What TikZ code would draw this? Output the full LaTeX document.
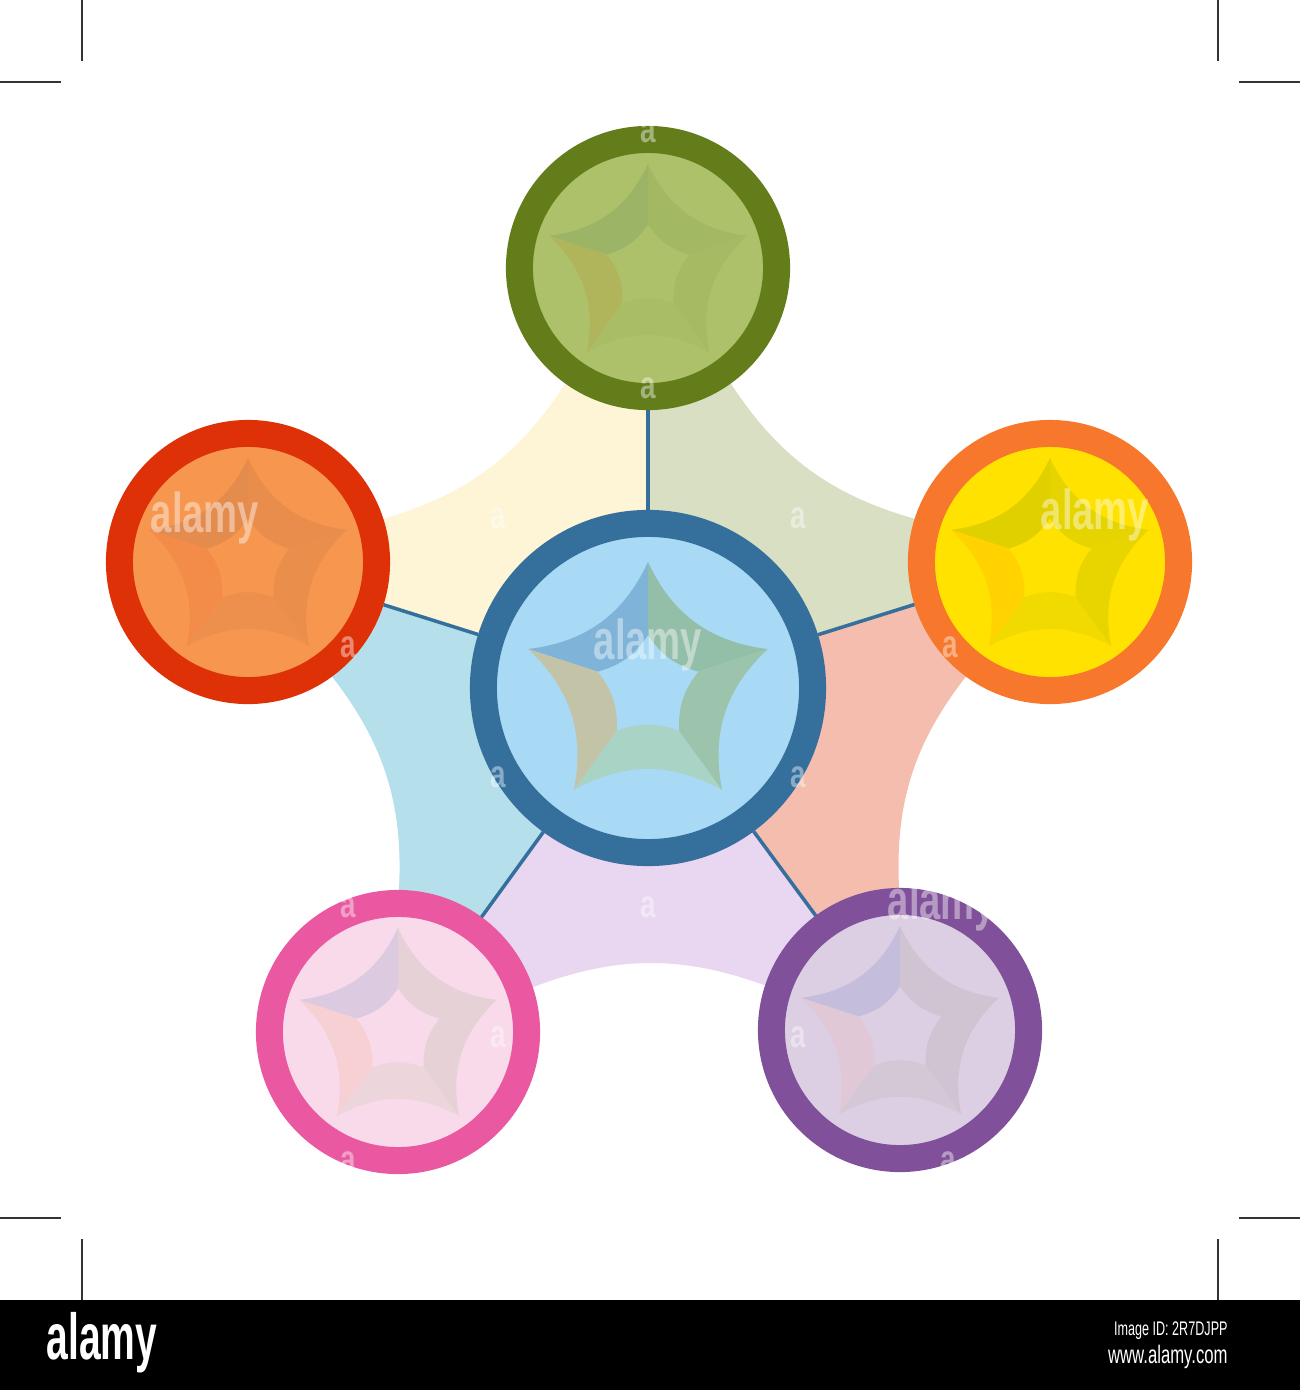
\documentclass[tikz,border=0pt]{standalone}
\usepackage{fontspec}
\setmainfont{Liberation Sans}
\usepackage{graphicx}
\usetikzlibrary{backgrounds}

\definecolor{ringB}{HTML}{356F9C}
\definecolor{fillB}{HTML}{A8DAF5}
\definecolor{ringG}{HTML}{637D1A}
\definecolor{fillG}{HTML}{ADC06A}
\definecolor{ringR}{HTML}{DE3108}
\definecolor{fillR}{HTML}{F7964F}
\definecolor{ringO}{HTML}{F7782C}
\definecolor{fillY}{HTML}{FFE200}
\definecolor{ringP}{HTML}{E958A0}
\definecolor{fillP}{HTML}{F8DAEA}
\definecolor{ringV}{HTML}{80519A}
\definecolor{fillV}{HTML}{DCCFE3}
\definecolor{zoneTL}{HTML}{FDF5D5}
\definecolor{zoneTR}{HTML}{D8DFC3}
\definecolor{zoneL}{HTML}{B5DFEB}
\definecolor{zoneR}{HTML}{F4BDAE}
\definecolor{zoneB}{HTML}{E9D7F1}

\newcommand{\narrow}[2]{\scalebox{#1}[1]{#2}}

% star of five bands: node, radius, colours of the bands TR, TL, L, B, R
\newcommand{\starsegs}[7]{%
  \begin{scope}[shift={(#1.center)}]
    \foreach \a/\c in {18/#3,90/#4,162/#5,234/#6,306/#7}{
      \edef\setseg{\noexpand\definecolor{seg}{HTML}{\c}}\setseg
      \fill[seg] (\a:#2) to[bend left=29] (\a+72:#2)
        -- (\a+72:0.42*#2) to[bend right=20] (\a:0.42*#2) -- cycle;
    }
  \end{scope}}

\begin{document}
\begin{tikzpicture}[x=0.01cm,y=0.01cm,
    hub/.style={circle,minimum size=3.29cm,inner sep=0pt,line width=0.27cm},
    petal/.style={circle,minimum size=2.57cm,inner sep=0pt,line width=0.27cm},
    spoke/.style={draw=ringB,line width=1pt},
    crop/.style={draw=black!80,line width=0.45pt},
    wm/.style={text=white,text opacity=0.42,font=\bfseries\fontsize{16pt}{16pt}\selectfont},
    wma/.style={text=white,text opacity=0.42,font=\bfseries\fontsize{11pt}{11pt}\selectfont}]
    \useasboundingbox (0,0) rectangle (1300,-1390);

    \node[hub,draw=ringB,fill=fillB] (c) at (648,-688) {};
    \node[petal,draw=ringG,fill=fillG] (t) at (648,-268) {};
    \node[petal,draw=ringR,fill=fillR] (l) at (248,-562) {};
    \node[petal,draw=ringO,fill=fillY] (r) at (1050,-562) {};
    \node[petal,draw=ringP,fill=fillP] (bl) at (398,-1032) {};
    \node[petal,draw=ringV,fill=fillV] (br) at (900,-1030) {};

    \begin{pgfonlayer}{background}
        \fill[zoneTL] (c.center) -- (t.center) -- ([shift={(234:128)}]t.center)
            to[bend left=22] ([shift={(18:128)}]l.center) -- (l.center) -- cycle;
        \fill[zoneL] (c.center) -- (l.center) -- ([shift={(306:128)}]l.center)
            to[bend left=22] ([shift={(90:128)}]bl.center) -- (bl.center) -- cycle;
        \fill[zoneB] (c.center) -- (bl.center) -- ([shift={(18:128)}]bl.center)
            to[bend left=22] ([shift={(162:128)}]br.center) -- (br.center) -- cycle;
        \fill[zoneR] (c.center) -- (br.center) -- ([shift={(90:128)}]br.center)
            to[bend left=22] ([shift={(234:128)}]r.center) -- (r.center) -- cycle;
        \fill[zoneTR] (c.center) -- (r.center) -- ([shift={(162:128)}]r.center)
            to[bend left=22] ([shift={(306:128)}]t.center) -- (t.center) -- cycle;
    \end{pgfonlayer}

    \path (c) edge[spoke] (t);
    \path (c) edge[spoke] (l);
    \path (c) edge[spoke] (r);
    \path (c) edge[spoke] (bl);
    \path (c) edge[spoke] (br);

    \starsegs{c}{126}{93BFA8}{7FB4D8}{C3C3A8}{A9D3C5}{9CC4AC}
    \starsegs{t}{104}{A2B862}{9CB466}{B0B55C}{A9BD64}{A5BA62}
    \starsegs{l}{104}{E88D4C}{E48B4E}{F28C48}{EE904D}{EA8E4C}
    \starsegs{r}{104}{E6D400}{E0D000}{FFD200}{F0DA00}{E8D500}
    \starsegs{bl}{104}{E6D2D6}{DCCBE0}{F6D0D2}{ECD6DC}{E6D2D6}
    \starsegs{br}{104}{D0C4D2}{C4BEDC}{E0C8D6}{D4C8D6}{D0C4D2}

    % watermark
    \node[wm] (w1) at (205,-518) {\narrow{0.68}{alamy}};
    \node[wm] (w2) at (648,-645) {\narrow{0.68}{alamy}};
    \node[wm] (w3) at (1095,-515) {\narrow{0.68}{alamy}};
    \node[wm] (w4) at (942,-905) {\narrow{0.68}{alamy}};
    \foreach \x/\y in {648/132,648/388,498/518,798/518,348/647,950/647,
                       498/777,798/777,348/907,648/907,498/1037,798/1037,
                       348/1162,948/1162}
        \node[wma] at (\x,-\y) {\narrow{0.72}{a}};

    % crop marks
    \draw[crop] (82,0) -- (82,-61);
    \draw[crop] (0,-82) -- (61,-82);
    \draw[crop] (1218,0) -- (1218,-61);
    \draw[crop] (1239,-82) -- (1300,-82);
    \draw[crop] (0,-1218) -- (61,-1218);
    \draw[crop] (82,-1239) -- (82,-1300);
    \draw[crop] (1239,-1218) -- (1300,-1218);
    \draw[crop] (1218,-1239) -- (1218,-1300);

    \fill[black] (0,-1300) rectangle (1300,-1390);
    \node[text=white,font=\bfseries\fontsize{18.5pt}{18.5pt}\selectfont] (logo) at (102,-1343) {\narrow{0.6}{alamy}};
    \node[text=white,anchor=east,font=\fontsize{5.6pt}{5.6pt}\selectfont] (imgid) at (1240,-1331) {\narrow{0.64}{Image ID: 2R7DJPP}};
    \node[text=white,anchor=east,font=\fontsize{7.2pt}{7.2pt}\selectfont] (site) at (1240,-1357) {\narrow{0.66}{www.alamy.com}};
\end{tikzpicture}
\end{document}
